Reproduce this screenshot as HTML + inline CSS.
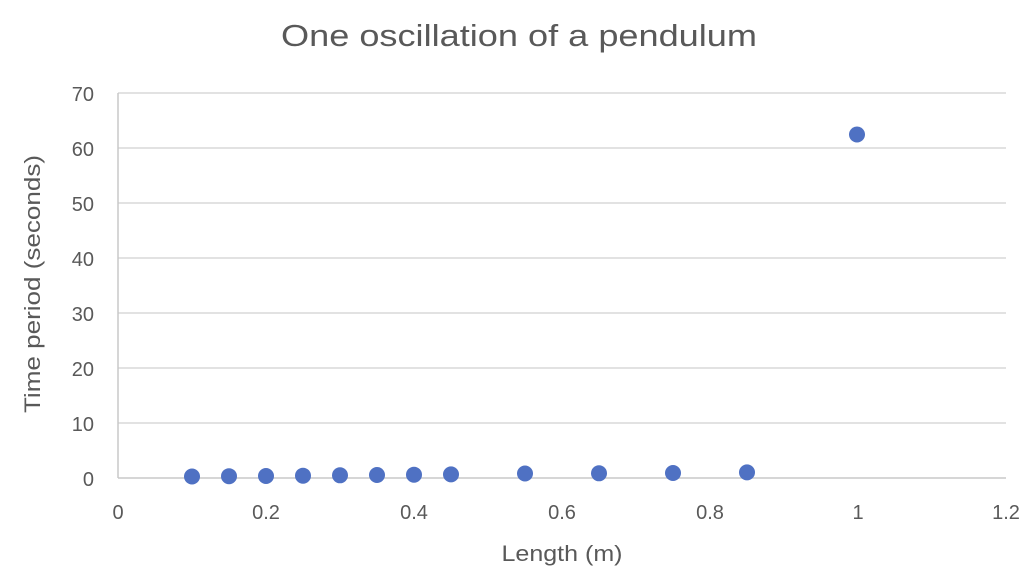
<!DOCTYPE html>
<html>
<head>
<meta charset="utf-8">
<style>
  html, body { margin: 0; padding: 0; background: #ffffff; }
  svg { display: block; }
  text { font-family: "Liberation Sans", sans-serif; fill: #595959; }
</style>
</head>
<body>
<svg width="1033" height="577" viewBox="0 0 1033 577" xmlns="http://www.w3.org/2000/svg">
  <rect x="0" y="0" width="1033" height="577" fill="#ffffff"/>
  <!-- Title -->
  <text x="519" y="46" font-size="31" text-anchor="middle" textLength="476" lengthAdjust="spacingAndGlyphs">One oscillation of a pendulum</text>

  <!-- gridlines -->
  <g stroke="#d9d9d9" stroke-width="1.5">
    <line x1="118" y1="93" x2="1006" y2="93"/>
    <line x1="118" y1="148" x2="1006" y2="148"/>
    <line x1="118" y1="203" x2="1006" y2="203"/>
    <line x1="118" y1="258" x2="1006" y2="258"/>
    <line x1="118" y1="313" x2="1006" y2="313"/>
    <line x1="118" y1="368" x2="1006" y2="368"/>
    <line x1="118" y1="423" x2="1006" y2="423"/>
  </g>
  <!-- axes -->
  <line x1="118" y1="93" x2="118" y2="478" stroke="#c8c8c8" stroke-width="1.5"/>
  <line x1="118" y1="478" x2="1006" y2="478" stroke="#c8c8c8" stroke-width="1.5"/>

  <!-- y tick labels -->
  <g font-size="20" text-anchor="end">
    <text x="94" y="101">70</text>
    <text x="94" y="156">60</text>
    <text x="94" y="211">50</text>
    <text x="94" y="266">40</text>
    <text x="94" y="321">30</text>
    <text x="94" y="376">20</text>
    <text x="94" y="431">10</text>
    <text x="94" y="486">0</text>
  </g>
  <!-- x tick labels -->
  <g font-size="20" text-anchor="middle">
    <text x="118" y="519">0</text>
    <text x="266" y="519">0.2</text>
    <text x="414" y="519">0.4</text>
    <text x="562" y="519">0.6</text>
    <text x="710" y="519">0.8</text>
    <text x="858" y="519">1</text>
    <text x="1006" y="519">1.2</text>
  </g>

  <!-- axis titles -->
  <text x="562" y="561" font-size="22" text-anchor="middle" textLength="121" lengthAdjust="spacingAndGlyphs">Length (m)</text>
  <text transform="translate(40,284) rotate(-90)" font-size="22" text-anchor="middle" textLength="258" lengthAdjust="spacingAndGlyphs">Time period (seconds)</text>

  <!-- data points -->
  <g fill="#4f71c3">
    <circle cx="192" cy="476.5" r="8"/>
    <circle cx="229" cy="476.2" r="8"/>
    <circle cx="266" cy="476" r="8"/>
    <circle cx="303" cy="475.7" r="8"/>
    <circle cx="340" cy="475.3" r="8"/>
    <circle cx="377" cy="475" r="8"/>
    <circle cx="414" cy="474.7" r="8"/>
    <circle cx="451" cy="474.4" r="8"/>
    <circle cx="525" cy="473.5" r="8"/>
    <circle cx="599" cy="473.3" r="8"/>
    <circle cx="673" cy="473" r="8"/>
    <circle cx="747" cy="472.4" r="8"/>
    <circle cx="857" cy="134.5" r="8"/>
  </g>
</svg>
</body>
</html>
